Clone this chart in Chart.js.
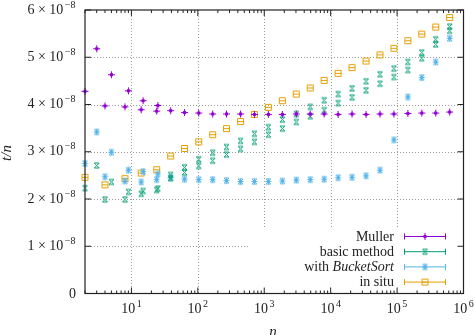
<!DOCTYPE html>
<html>
<head>
<meta charset="utf-8">
<script src="https://cdn.jsdelivr.net/npm/chart.js@4.4.0/dist/chart.umd.min.js"></script>
<style>
html, body { margin: 0; padding: 0; background: #fff; }
#wrap { width: 474px; height: 335px; }
</style>
</head>
<body>
<div id="wrap"><canvas id="myChart"></canvas></div>
<script>
// t/n values are in units of 1e-8
const nSizes = [2, 3, 4, 5, 8, 9, 14, 15, 24, 25, 39, 63, 103, 167, 270, 439, 711, 1153, 1871, 3034,
	4920, 7980, 12940, 20990, 34040, 55210, 89540, 145200, 235500, 381900, 619400];
const mullerT = [4.28, 5.18, 3.97, 4.63, 3.95, 4.29, 3.89, 4.08, 3.86, 3.98, 3.87, 3.83, 3.82, 3.80, 3.80,
	3.80, 3.79, 3.79, 3.79, 3.80, 3.80, 3.80, 3.79, 3.80, 3.79, 3.80, 3.80, 3.81, 3.82, 3.82, 3.84];
const basicT = [2.23, 2.71, 1.99, 2.36, 1.99, 2.15, 2.11, 2.17, 2.19, 2.22, 2.51, 2.67, 2.84, 2.98, 3.10,
	3.23, 3.38, 3.52, 3.68, 3.80, 3.95, 4.09, 4.22, 4.34, 4.49, 4.64, 4.76, 4.90, 5.10, 5.38, 5.65];
// second run of the basic method, from n = 39 on
const basicT2 = [2.44, 2.56, 2.70, 2.81, 2.94, 3.06, 3.21, 3.36, 3.49, 3.63, 3.75, 3.88, 4.03, 4.15, 4.30,
	4.44, 4.58, 4.73, 4.98, 5.27, 5.56];
const bucketT = [2.75, 3.42, 2.47, 2.99, 2.38, 2.61, 2.36, 2.58, 2.41, 2.53, 2.45, 2.42, 2.41, 2.41, 2.39,
	2.37, 2.37, 2.37, 2.38, 2.40, 2.41, 2.42, 2.45, 2.46, 2.49, 2.61, 3.25, 4.16, 4.57, 4.90, 5.40];
const inSituN = [2, 4, 8, 14, 24, 39, 63, 103, 167, 270, 439, 711, 1153, 1871, 3034, 4920, 7980, 12940,
	20990, 34040, 55210, 89540, 145200, 235500, 381900, 619400];
const inSituT = [2.46, 2.30, 2.43, 2.55, 2.62, 2.91, 3.07, 3.21, 3.36, 3.49, 3.64, 3.79, 3.94, 4.08, 4.22,
	4.35, 4.51, 4.66, 4.78, 4.92, 5.05, 5.19, 5.35, 5.49, 5.64, 5.84];

const xTickExp = [1, 2, 3, 4, 5, 6];
const yTickVals = [0, 1, 2, 3, 4, 5, 6];

const colors = { muller: '#9400d3', basic: '#009e73', bucket: '#56b4e9', insitu: '#e69f00' };
const FONT = '"Liberation Serif", "Times New Roman", serif';

function makeMarker(color, kind) {
	const c = document.createElement('canvas');
	c.width = 9; c.height = 9;
	const g = c.getContext('2d');
	g.strokeStyle = color;
	g.lineWidth = 1;
	g.beginPath();
	if (kind == 'plus') {
		g.moveTo(1, 4.5); g.lineTo(8, 4.5);
		g.moveTo(4.5, 1); g.lineTo(4.5, 8);
		g.moveTo(3, 3.5); g.lineTo(6, 3.5);
		g.moveTo(3, 5.5); g.lineTo(6, 5.5);
	} else if (kind == 'cross') {
		g.moveTo(2, 2); g.lineTo(7, 7);
		g.moveTo(2, 7); g.lineTo(7, 2);
		g.moveTo(2, 2); g.lineTo(7, 2);
		g.moveTo(2, 7); g.lineTo(7, 7);
	} else if (kind == 'star') {
		g.moveTo(1.5, 4.5); g.lineTo(7.5, 4.5);
		g.moveTo(4.5, 1.5); g.lineTo(4.5, 7.5);
		g.moveTo(2, 2); g.lineTo(7, 7);
		g.moveTo(2, 7); g.lineTo(7, 2);
		g.moveTo(2, 2); g.lineTo(7, 2);
		g.moveTo(2, 7); g.lineTo(7, 7);
	} else {
		g.rect(1.5, 1.5, 6, 6);
		g.moveTo(1.5, 4.5); g.lineTo(7.5, 4.5);
	}
	g.stroke();
	return c;
}

const marks = {
	muller: makeMarker(colors.muller, 'plus'),
	basic: makeMarker(colors.basic, 'cross'),
	bucket: makeMarker(colors.bucket, 'star'),
	insitu: makeMarker(colors.insitu, 'square')
};

const basicData = nSizes.map((n, i) => ({ x: n, y: basicT[i] }))
	.concat(nSizes.slice(10).map((n, i) => ({ x: n, y: basicT2[i] })));

const legendRows = [
	{ label: 'Muller', key: 'muller' },
	{ label: 'basic method', key: 'basic' },
	{ label: 'with ', italic: 'BucketSort', key: 'bucket' },
	{ label: 'in situ', key: 'insitu' }
];

function drawPow(g, base, exp, x, y, align) {
	g.font = '14px ' + FONT;
	let wb = g.measureText(base).width;
	g.font = '10px ' + FONT;
	let we = g.measureText(exp).width;
	let total = wb + 1.5 + we;
	let x0 = align == 'right' ? x - total : x - total / 2;
	g.textAlign = 'left';
	g.font = '14px ' + FONT;
	g.fillText(base, x0, y);
	g.font = '10px ' + FONT;
	g.fillText(exp, x0 + wb + 1.5, y - 6);
}

const framePlugin = {
	id: 'framePlugin',
	beforeDatasetsDraw(chart) {
		const g = chart.ctx;
		const a = chart.chartArea;
		const xs = chart.scales.x, ys = chart.scales.y;
		g.save();
		g.strokeStyle = '#9a9a9a';
		g.lineWidth = 1;
		g.setLineDash([1, 2]);
		xTickExp.forEach(k => {
			const v = Math.pow(10, k);
			if (v >= xs.max) return;
			const px = Math.round(xs.getPixelForValue(v)) + 0.5;
			g.beginPath(); g.moveTo(px, a.top); g.lineTo(px, a.bottom); g.stroke();
		});
		yTickVals.forEach(v => {
			if (v == ys.min || v == ys.max) return;
			const py = Math.round(ys.getPixelForValue(v)) + 0.5;
			g.beginPath(); g.moveTo(a.left, py); g.lineTo(a.right, py); g.stroke();
		});
		g.setLineDash([]);
		// legend box covers the grid
		g.fillStyle = '#fff';
		g.fillRect(249, 228, a.right - 249 - 1, a.bottom - 228 - 1);
		g.restore();
	},
	afterDatasetsDraw(chart) {
		const g = chart.ctx;
		const a = chart.chartArea;
		const xs = chart.scales.x, ys = chart.scales.y;
		g.save();
		g.strokeStyle = '#222';
		g.lineWidth = 1.2;
		g.strokeRect(a.left, a.top, a.right - a.left, a.bottom - a.top);

		// ticks, pointing inwards on all four sides
		g.lineWidth = 1;
		g.beginPath();
		for (let k = 0; k <= 5; k++) {
			for (let m = 1; m <= 9; m++) {
				const v = m * Math.pow(10, k);
				if (v < xs.min || v > xs.max) continue;
				const px = xs.getPixelForValue(v);
				const len = m == 1 ? 6 : 3;
				g.moveTo(px, a.bottom); g.lineTo(px, a.bottom - len);
				g.moveTo(px, a.top); g.lineTo(px, a.top + len);
			}
		}
		yTickVals.forEach(v => {
			const py = ys.getPixelForValue(v);
			g.moveTo(a.left, py); g.lineTo(a.left + 6, py);
			g.moveTo(a.right, py); g.lineTo(a.right - 6, py);
		});
		g.stroke();

		// tick labels
		g.fillStyle = '#222';
		g.textBaseline = 'alphabetic';
		yTickVals.forEach(v => {
			const py = ys.getPixelForValue(v);
			if (v == 0) {
				g.font = '14px ' + FONT;
				g.textAlign = 'right';
				g.fillText('0', 76, py + 4);
			} else {
				drawPow(g, v + ' \u00d7 10', '\u22128', 75.5, py + 3.5, 'right');
			}
		});
		xTickExp.forEach(k => {
			const px = xs.getPixelForValue(Math.pow(10, k));
			drawPow(g, '10', String(k), px, 312.5, 'center');
		});

		// axis titles
		g.font = 'italic 15px ' + FONT;
		g.textAlign = 'center';
		g.fillText('n', 273, 336);
		g.save();
		g.translate(11, 153);
		g.rotate(-Math.PI / 2);
		g.fillText('t/n', 0, 0);
		g.restore();

		// legend
		legendRows.forEach((row, i) => {
			const y = 236 + i * 15.2;
			g.fillStyle = '#222';
			g.textAlign = 'right';
			if (row.italic) {
				g.font = 'italic 14px ' + FONT;
				const wi = g.measureText(row.italic).width;
				g.fillText(row.italic, 394, y + 4.5);
				g.font = '14px ' + FONT;
				g.fillText(row.label, 394 - wi, y + 4.5);
			} else {
				g.font = '14px ' + FONT;
				g.fillText(row.label, 394, y + 4.5);
			}
			g.strokeStyle = colors[row.key];
			g.lineWidth = 1;
			g.beginPath();
			g.moveTo(404.5, y + 0.5); g.lineTo(445.5, y + 0.5);
			g.moveTo(404.5, y - 2.5); g.lineTo(404.5, y + 3.5);
			g.moveTo(445.5, y - 2.5); g.lineTo(445.5, y + 3.5);
			g.stroke();
			g.drawImage(marks[row.key], 425 - 4.5, y + 0.5 - 4.5);
		});
		g.restore();
	}
};

const ctx = document.getElementById('myChart').getContext('2d');
const myChart = new Chart(ctx, {
	type: 'scatter',
	data: {
		datasets: [
			{
				label: 'Muller',
				data: nSizes.map((n, i) => ({ x: n, y: mullerT[i] })),
				pointStyle: marks.muller,
				clip: false
			}, {
				label: 'basic method',
				data: basicData,
				pointStyle: marks.basic,
				clip: false
			}, {
				label: 'with BucketSort',
				data: nSizes.map((n, i) => ({ x: n, y: bucketT[i] })),
				pointStyle: marks.bucket,
				clip: false
			}, {
				label: 'in situ',
				data: inSituN.map((n, i) => ({ x: n, y: inSituT[i] })),
				pointStyle: marks.insitu,
				clip: false
			}
		]
	},
	options: {
		responsive: true,
		maintainAspectRatio: false,
		animation: false,
		layout: { padding: { left: 85, top: 10, right: 10.5, bottom: 41.5 } },
		plugins: { legend: { display: false }, tooltip: { enabled: false } },
		scales: {
			x: { type: 'logarithmic', min: 2, max: 1e6, display: false },
			y: { type: 'linear', min: 0, max: 6, display: false }
		}
	},
	plugins: [framePlugin]
});
</script>
</body>
</html>
